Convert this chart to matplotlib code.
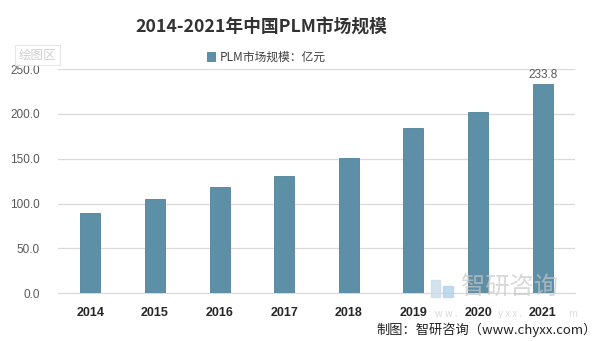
import matplotlib
matplotlib.use("Agg")
import matplotlib.pyplot as plt
from matplotlib.patches import Rectangle

plt.rcParams['font.family'] = ['Noto Sans CJK SC', 'DejaVu Sans']

years = ["2014", "2015", "2016", "2017", "2018", "2019", "2020", "2021"]
values = [89.2, 104.8, 118.2, 130.5, 151.2, 184.7, 202.5, 233.8]
yticks = [0, 50, 100, 150, 200, 250]
series_name = "PLM市场规模：亿元"
title = "2014-2021年中国PLM市场规模"
source = "制图：智研咨询（www.chyxx.com）"

fig = plt.figure(figsize=(6.0, 3.41), dpi=100)
ax = fig.add_axes([58/600, 1-293.3/341, 517/600, 224.2/341])

x = list(range(len(years)))
bars = ax.bar(x, values, width=0.31, color="#5d8fa7", edgecolor="#4f8299", linewidth=0.6,
              label=series_name, zorder=3)

ax.set_xlim(-0.5, len(years) - 0.5)
ax.set_ylim(0, 250)
ax.set_yticks(yticks)
ax.set_yticklabels([f"{v:.1f}" for v in yticks], color="#595959", fontsize=8.5, family=['Liberation Sans', 'DejaVu Sans'])
ax.set_xticks(x)
ax.set_xticklabels(years, fontsize=9, fontweight="bold", color="#262626", family=['Liberation Sans', 'DejaVu Sans'])
ax.tick_params(axis="both", length=0)
ax.tick_params(axis="y", pad=13)
ax.tick_params(axis="x", pad=10)
ax.grid(axis="y", color="#d9d9d9", linewidth=0.9, zorder=0)
for s in ["top", "right", "left"]:
    ax.spines[s].set_visible(False)
ax.spines["bottom"].set_color("#d9d9d9")

ax.text(x[-1], values[-1] + 3, f"{values[-1]:.1f}", ha="center", va="bottom",
        fontsize=8.5, color="#595959", family=['Liberation Sans', 'DejaVu Sans'])

fig.text(261/600, 1 - 27/341, title, ha="center", va="center", fontsize=12.8,
         fontweight="bold", color="#333333")

leg = fig.legend(handles=[bars], labels=[series_name], loc="center",
                 bbox_to_anchor=(266/600, 1 - 57/341), frameon=False, fontsize=8.5,
                 handlelength=0.7, handleheight=0.7, handletextpad=0.4)
for t in leg.get_texts():
    t.set_color("#404040")

fig.text(37/600, 1 - 55/341, "绘图区", ha="center", va="center", fontsize=9,
         color="#d0d0d0", bbox=dict(boxstyle="square,pad=0.3", fc="white", ec="#e6e6e6", lw=0.8))

# watermark logo + text
fig.patches.append(Rectangle((431/600, 1 - 297/341), 9/600, 17/341, transform=fig.transFigure,
                             color="#c9dcea", alpha=0.8, zorder=5))
fig.patches.append(Rectangle((443/600, 1 - 297/341), 10/600, 11/341, transform=fig.transFigure,
                             color="#b3d1ea", alpha=0.8, zorder=5))
fig.text(461/600, 1 - 288/341, "智研咨询", ha="left", va="center", fontsize=17.5,
         color="#c8c8c8", alpha=0.7, zorder=5)
fig.text(446/600, 1 - 314/341, "w w .", ha="center", va="center", fontsize=7, color="#dcdcdc")
fig.text(510/600, 1 - 314/341, "y x x .", ha="center", va="center", fontsize=7, color="#dcdcdc")
fig.text(573/600, 1 - 314/341, "m", ha="center", va="center", fontsize=7, color="#dcdcdc")

fig.text(597/600, 1 - 330/341, source, ha="right", va="center", fontsize=9.5, color="#222222")

fig.savefig("out.png", dpi=100)
